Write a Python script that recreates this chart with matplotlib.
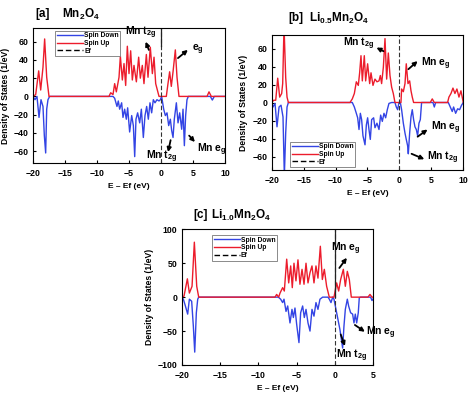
import matplotlib
matplotlib.use("Agg")
import matplotlib.pyplot as plt
from matplotlib.lines import Line2D

plt.rcParams.update({
    "font.family": ["Liberation Sans", "DejaVu Sans"],
    "font.weight": "bold",
    "axes.labelweight": "bold",
    "mathtext.default": "regular",
    "font.size": 6,
    "axes.linewidth": 0.8,
    "xtick.labelsize": 6.3,
    "ytick.labelsize": 6.3,
    "xtick.direction": "in",
    "ytick.direction": "in",
    "xtick.major.size": 2.5,
    "ytick.major.size": 2.5,
    "xtick.major.pad": 4,
    "ytick.major.pad": 3,
})

BLUE = "#3344e4"
RED = "#ec1c2c"

# ---- panel a : Mn2O4 ----
E_A_UP = [-20, -19.58, -19.11, -18.8, -18.44, -18.18, -17.86, -17.5, -8.13, -7.86, -7.5,
          -7.24, -6.98, -6.56, -6.35, -6.04, -5.78, -5.52, -5.26, -5.0, -4.74, -4.48,
          -4.22, -3.85, -3.49, -3.23, -2.92, -2.66, -2.29, -2.03, -1.67, -1.35, -1.09,
          -0.83, -0.57, -0.31, 0.83, 1.09, 1.35, 1.61, 1.88, 2.24, 2.5, 2.81, 7.19,
          7.5, 7.86, 10]
DOS_A_UP = [0, 2, 28, 7, 32, 63, 21, 0, 0, 4, 2, 14, 5, 21, 44, 18, 36, 12, 55, 25, 50,
            18, 34, 16, 43, 20, 34, 14, 46, 21, 54, 25, 43, 14, 7, 0, 0, 14, 27, 11, 27,
            51, 21, 0, 0, 5, 0, 0]
E_A_DN = [-20, -19.69, -19.38, -19.06, -18.75, -18.44, -18.23, -18.02, -17.86, -17.66,
          -17.4, -7.5, -7.24, -6.88, -6.67, -6.46, -6.15, -5.94, -5.68, -5.42, -5.21,
          -4.9, -4.58, -4.32, -4.11, -3.91, -3.65, -3.33, -3.07, -2.76, -2.5, -2.24,
          -1.98, -1.72, -1.46, -1.2, -0.94, -0.63, -0.31, -0.1, 0.1, 0.42, 0.68, 0.94,
          1.2, 1.46, 1.67, 1.88, 2.08, 2.4, 2.66, 2.92, 3.23, 3.44, 3.65, 3.85, 4.06,
          4.27, 7.71, 8.02, 8.33, 10]
DOS_A_DN = [0, -3.6, 0, -23, -3.6, -11, -43, -62, -14, -3.6, 0, 0, -2, -11, -5, -14, -7,
            -23, -14, -25, -12.5, -39, -21, -32, -66, -25, -18, -29, -14, -45, -21, -11,
            -25, -7, -18, -3.6, -7, -3.6, -5, -3.6, 0, -14, -21, -18, -32, -25, -37.5,
            -45, -25, -7, -29, -18, -36, -14, -54, -21, -3.6, 0, 0, -4, 0, 0]

# ---- panel b : Li0.5Mn2O4 ----
E_B_UP = [-20, -19.69, -19.37, -19.06, -18.75, -18.44, -18.28, -18.07, -17.81, -17.6,
          -17.39, -7.74, -7.38, -7.06, -6.75, -6.44, -6.23, -6.02, -5.81, -5.5, -5.29,
          -4.98, -4.66, -4.45, -4.14, -3.83, -3.52, -3.2, -2.99, -2.79, -2.52, -2.26,
          -2.0, -1.74, -1.48, -1.22, -0.96, -0.7, 0.24, 0.34, 0.61, 0.87, 1.07, 1.34,
          1.6, 1.81, 2.01, 2.22, 4.83, 5.14, 5.46, 7.54, 7.75, 8.07, 8.38, 8.69, 9.0,
          9.32, 9.63, 10]
DOS_B_UP = [0, 2.5, 2.5, 27, 6, 10, 21, 85, 28, 6, 0, 0, 4, 10, 23, 19, 33, 52, 24, 52,
            24, 43, 21, 33, 19, 26, 23, 24, 30, 21, 39, 71, 26, 55, 30, 17, 10, 0, 0,
            15, 12, 21, 43, 21, 24, 13, 6, 0, 0, 4, 0, 0, 6, 10, 16, 10, 15, 6, 13, 0]
E_B_DN = [-20, -19.79, -19.48, -19.17, -18.85, -18.54, -18.23, -18.02, -17.81, -17.6,
          -17.39, -7.38, -7.06, -6.75, -6.54, -6.33, -6.12, -5.92, -5.71, -5.39, -5.18,
          -4.98, -4.77, -4.56, -4.35, -4.04, -3.83, -3.52, -3.2, -2.94, -2.68, -2.42,
          -2.16, -1.9, -1.64, -1.22, -0.7, -0.49, -0.28, -0.07, 0.14, 0.34, 0.61, 0.87,
          1.07, 1.28, 1.39, 1.6, 1.81, 2.01, 2.22, 2.43, 2.64, 2.85, 3.06, 3.27, 3.47,
          5.25, 5.46, 5.67, 7.65, 7.96, 8.27, 8.48, 8.8, 9.11, 9.42, 9.73, 10]
DOS_B_DN = [0, -5, -1, -27, -5, -3, -16, -82, -34, -5, 0, 0, -5, -12, -17, -30, -12,
            -19, -37, -47, -25, -17, -30, -41, -19, -17, -28, -23, -30, -14, -21, -12,
            -17, -8, -1, 0, 0, -5, -8, 0, 0, -8, -23, -34, -41, -48, -57, -34, -16, -8,
            -19, -27, -30, -37, -23, -19, 0, 0, -5, 0, 0, -5, -10, -5, -12, -7, -8, -3, 0]

# ---- panel c : Li1.0Mn2O4 ----
E_C_UP = [-20, -19.7, -19.26, -19.0, -18.65, -18.35, -18.04, -17.78, -7.83, -7.61,
          -7.35, -7.17, -6.83, -6.61, -6.3, -6.04, -5.78, -5.57, -5.35, -5.09, -4.83,
          -4.57, -4.3, -4.04, -3.78, -3.52, -3.26, -3.0, -2.74, -2.48, -2.22, -1.91,
          -1.65, -1.39, -1.09, -0.74, -0.13, 0.22, 0.48, 0.74, 1.09, 1.35, 1.61, 1.87,
          2.13, 4.3, 4.57, 4.83, 5]
DOS_C_UP = [0, 1.5, 27, 6, 16, 81, 16, 0, 0, 4, 0, 6, 14, 9, 56, 21, 46, 14, 50, 24, 55,
            19, 41, 19, 50, 21, 36, 46, 21, 46, 28, 75, 26, 41, 16, 0, 0, 21, 9, 26, 41,
            16, 38, 26, 0, 0, 4, 0, 0]
E_C_DN = [-20, -19.78, -19.52, -19.22, -19.0, -18.7, -18.48, -18.3, -18.09, -17.91,
          -17.78, -7.39, -7.09, -6.83, -6.65, -6.39, -6.17, -5.87, -5.61, -5.43, -5.22,
          -5.0, -4.7, -4.48, -4.22, -4.0, -3.78, -3.52, -3.26, -3.0, -2.74, -2.48,
          -2.22, -1.96, -1.61, -0.91, -0.74, -0.52, -0.3, -0.13, 0.13, 0.39, 0.65, 0.83,
          1.0, 1.17, 1.35, 1.61, 1.78, 2.04, 2.3, 2.48, 2.65, 2.83, 3.04, 3.17, 3.35,
          4.65, 4.83, 5]
DOS_C_DN = [0, -3, -13, -25, -3, -6, -43, -81, -23, -3, 0, 0, -3, -8, -3, -21, -13, -38,
            -18, -30, -16, -40, -67, -23, -13, -30, -18, -38, -50, -18, -28, -8, -18,
            -3, 0, 0, -3, -8, 0, -3, -18, -33, -48, -62, -75, -43, -18, -3, -13, -23,
            -25, -38, -25, -38, -23, -1, 0, 0, -5, -2]


def draw_dos(ax, e_up, d_up, e_dn, d_dn, xlim, ylim, yticks):
    ax.plot(e_dn, d_dn, color=BLUE, lw=1.0, label="Spin Down")
    ax.plot(e_up, d_up, color=RED, lw=1.0, label="Spin Up")
    ax.axvline(0, color="#333333", lw=0.8, ls=(0, (4, 2)), label="Ef")
    ax.set_xlim(*xlim)
    ax.set_ylim(*ylim)
    ax.set_yticks(yticks)
    ax.set_xlabel("E \u2013 Ef (eV)", fontsize=6, labelpad=4)
    ax.set_ylabel("Density of States (1/eV)", fontsize=6.2, labelpad=3)


def legend(ax, loc, anchor):
    handles = [Line2D([], [], color=BLUE, lw=1), Line2D([], [], color=RED, lw=1),
               Line2D([], [], color="k", lw=1, ls=(0, (4, 2)))]
    lg = ax.legend(handles, ["Spin Down", "Spin Up", "Ef"], loc=loc,
                   bbox_to_anchor=anchor, fontsize=4.8, handlelength=4.0,
                   handletextpad=0.1, labelspacing=0.1, borderpad=0.25,
                   borderaxespad=0, fancybox=False, framealpha=1,
                   edgecolor="#777777")
    lg.get_frame().set_linewidth(0.6)


def note(ax, text, txy, tail, head, clip=True):
    ax.annotate("", xy=head, xytext=tail,
                arrowprops=dict(arrowstyle="-|>", color="k", lw=1.3,
                                mutation_scale=6, shrinkA=0, shrinkB=0),
                annotation_clip=clip)
    ax.text(txy[0], txy[1], text, fontsize=7.5, fontweight="bold",
            ha="center", va="center", clip_on=False)


W, H = 474, 398
fig = plt.figure(figsize=(W / 100, H / 100), dpi=100)

ax_a = fig.add_axes([33 / W, 1 - 163 / H, 192 / W, 135 / H])
ax_b = fig.add_axes([271.7 / W, 1 - 170 / H, 191.6 / W, 135 / H])
ax_c = fig.add_axes([181.7 / W, 1 - 365 / H, 191.6 / W, 135.7 / H])

draw_dos(ax_a, E_A_UP, DOS_A_UP, E_A_DN, DOS_A_DN, (-20, 10), (-73, 75),
         [-60, -40, -20, 0, 20, 40, 60])
draw_dos(ax_b, E_B_UP, DOS_B_UP, E_B_DN, DOS_B_DN, (-20, 10), (-75, 75),
         [-60, -40, -20, 0, 20, 40, 60])
draw_dos(ax_c, E_C_UP, DOS_C_UP, E_C_DN, DOS_C_DN, (-20, 5), (-100, 100),
         [-100, -50, 0, 50, 100])
ax_a.plot([0, 0], [55, 75], color="#222222", lw=0.9)
ax_c.plot([0, 0], [0, 100], color="#222222", lw=0.9)

legend(ax_a, "upper left", (0.115, 0.98))
legend(ax_b, "lower left", (0.095, 0.02))
legend(ax_c, "upper left", (0.158, 0.958))

# annotations
note(ax_a, "Mn t$_{2g}$", (-3.1, 70), (-1.9, 51), (-2.4, 60))
note(ax_a, "e$_g$", (5.7, 51), (2.65, 42), (4.2, 51))
note(ax_a, "Mn t$_{2g}$", (0.1, -66), (1.5, -48), (1.1, -61))
note(ax_a, "Mn e$_g$", (7.9, -59), (4.4, -43), (5.3, -50))

note(ax_b, "Mn t$_{2g}$", (-6.4, 65), (-2.5, 57), (-3.6, 61))
note(ax_b, "Mn e$_g$", (5.7, 43), (1.4, 37), (2.85, 46))
note(ax_b, "Mn e$_g$", (7.3, -28), (2.85, -38), (4.4, -30))
note(ax_b, "Mn t$_{2g}$", (6.7, -61), (1.9, -57), (3.9, -63))

note(ax_c, "Mn e$_g$", (1.4, 71), (0.57, 43), (1.55, 58))
note(ax_c, "Mn e$_g$", (6.0, -52), (2.6, -41), (3.9, -51), clip=False)
note(ax_c, "Mn t$_{2g}$", (2.2, -86), (0.75, -55), (1.3, -72))

# panel titles
fig.text(35 / W, 1 - 14 / H, "[a]", fontsize=8.5, fontweight="bold", va="center")
fig.text(62 / W, 1 - 14 / H, "Mn$_2$O$_4$", fontsize=8.5, fontweight="bold", va="center")
fig.text(288 / W, 1 - 18 / H, "[b]", fontsize=8.5, fontweight="bold", va="center")
fig.text(309 / W, 1 - 18 / H, "Li$_{0.5}$Mn$_2$O$_4$", fontsize=8.5, fontweight="bold",
         va="center")
fig.text(193 / W, 1 - 215 / H, "[c]", fontsize=8.5, fontweight="bold", va="center")
fig.text(211 / W, 1 - 215 / H, "Li$_{1.0}$Mn$_2$O$_4$", fontsize=8.5, fontweight="bold",
         va="center")

fig.savefig("out.png", dpi=100)
